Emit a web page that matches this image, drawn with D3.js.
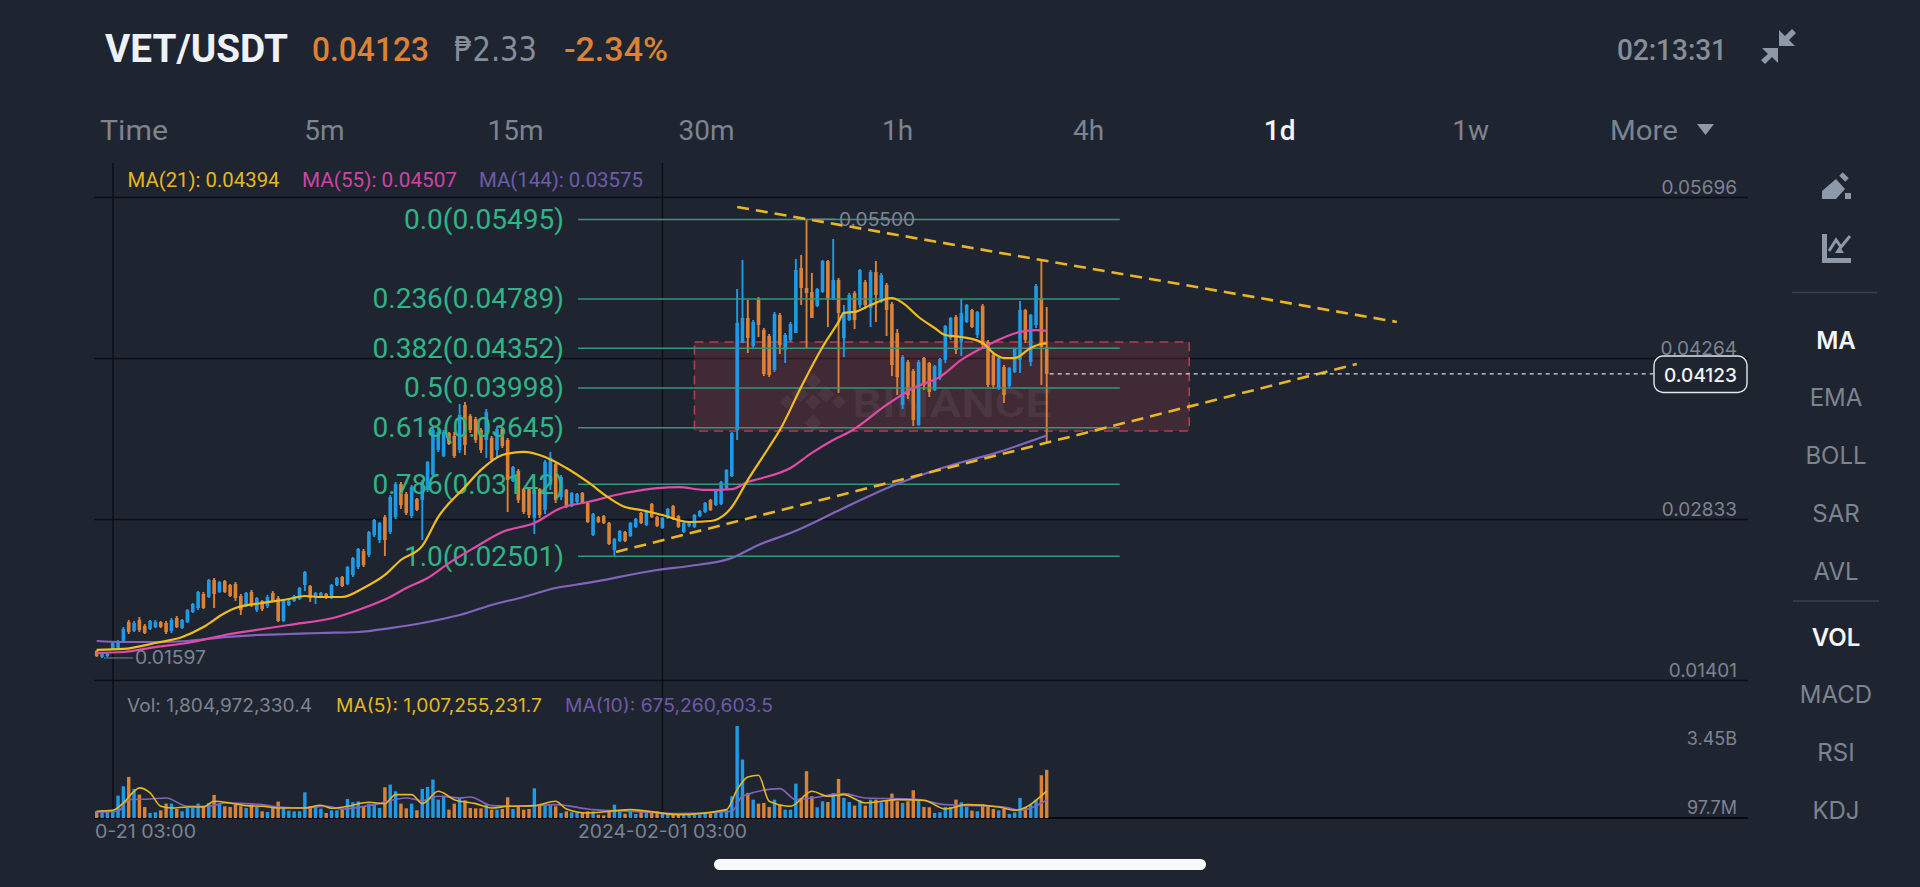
<!DOCTYPE html>
<html><head><meta charset="utf-8">
<script src="https://cdn.jsdelivr.net/npm/d3@7/dist/d3.min.js"></script>
<style>html,body{margin:0;padding:0;background:#1f2530;overflow:hidden}svg{display:block}</style>
</head><body><svg id="c" width="1920" height="887"></svg>
<script>
// Prices below are in units of 0.00001 USDT
const priceUnit = 1e-5;
const highs = [1668,1641,1641,1739,1757,1872,1935,1926,1961,1899,
1935,1935,1926,1926,1952,1970,1943,2032,2086,2192,
2184,2299,2308,2281,2290,2255,2272,2166,2184,2201,
2139,2112,2157,2192,2148,2112,2112,2157,2228,2370,
2246,2184,2184,2175,2255,2317,2326,2415,2495,2575,
2566,2726,2833,2806,2868,3046,3162,3162,3073,3135,
3020,3180,3349,3642,3642,3624,3606,3606,3855,3873,
3767,3740,3642,3811,3571,3651,3651,3553,3304,3277,
3108,3108,3108,3108,3357,3429,3340,3224,3099,3073,
3064,3073,2993,2886,2859,2868,2806,2664,2735,2726,
2806,2842,2895,2913,2975,2859,2850,2931,2957,2868,
2806,2806,2877,2913,2984,3011,3091,3171,3277,3606,
4878,5136,4780,4602,4807,4531,4478,4674,4665,4487,
4585,5145,5181,5500,5020,4887,5136,5136,5323,4976,
4736,4843,4860,5056,4958,5047,5127,5020,4932,4763,
4522,4291,4247,4167,4247,4273,4229,4202,4264,4558,
4629,4647,4789,4745,4700,4683,4745,4425,4309,4273,
4202,4184,4354,4771,4700,4656,4923,5136,4718];
const lows = [1606,1597,1606,1668,1677,1739,1810,1828,1828,1810,
1846,1863,1863,1810,1819,1863,1855,1908,1997,2024,
2032,2130,2041,2175,2175,2139,2104,1979,2050,2050,
2006,2015,2041,2095,1917,1917,2059,2095,2112,2192,
2095,2077,2130,2121,2121,2237,2228,2246,2317,2388,
2406,2495,2673,2619,2504,2699,2833,2922,2868,2842,
2904,2646,3073,3206,3429,3384,3491,3375,3420,3402,
3598,3509,3420,3375,3340,3375,3464,2895,3162,2975,
2877,2842,2699,2842,2877,3091,2975,3002,2931,2939,
2975,2966,2797,2682,2797,2788,2602,2501,2628,2628,
2673,2753,2788,2770,2842,2762,2744,2833,2824,2753,
2708,2762,2753,2850,2886,2904,2948,2957,3099,3206,
3535,4398,4309,4354,4451,4104,4095,4140,4300,4220,
4407,4487,4736,4345,4620,4718,4843,4540,4780,3953,
4273,4594,4522,4709,4700,4540,4585,4754,4460,4104,
3935,3811,3900,3660,3660,3980,3918,3971,4069,4220,
4425,4300,4282,4576,4531,4442,4354,4007,3989,3980,
3864,3998,4131,4131,4398,4193,4531,4024,3509];
const opens = [1659,1606,1614,1677,1686,1748,1917,1837,1935,1881,
1855,1872,1917,1908,1837,1952,1863,1917,2006,2041,
2166,2139,2290,2184,2281,2246,2255,2148,2059,2184,
2023,2104,2059,2175,2130,1926,2068,2104,2121,2246,
2237,2130,2139,2166,2130,2246,2317,2255,2335,2406,
2548,2513,2690,2646,2850,2717,2850,3144,3055,2859,
3011,3002,3091,3224,3447,3393,3597,3571,3447,3846,
3749,3722,3624,3535,3553,3447,3633,3535,3171,3260,
3099,3099,2842,3099,2913,3135,3322,3028,3091,2948,
2984,3064,2975,2690,2850,2859,2797,2557,2637,2717,
2681,2762,2886,2779,2966,2850,2753,2842,2948,2859,
2717,2770,2762,2859,2895,3002,2957,2966,3108,3215,
3624,4398,4620,4372,4789,4514,4460,4158,4647,4336,
4425,4487,5065,4887,4852,4727,4852,5127,4789,4958,
4442,4602,4843,4736,4940,4709,5029,4763,4914,4745,
4487,3847,4229,4149,3669,4264,4220,3980,4087,4247,
4442,4629,4407,4585,4691,4469,4727,4407,4291,3998,
4184,4016,4140,4247,4691,4229,4558,4798,4362];
const closes = [1614,1632,1632,1730,1748,1855,1828,1908,1846,1819,
1926,1917,1872,1828,1935,1872,1935,2023,2077,2184,
2041,2290,2166,2272,2184,2148,2130,2023,2175,2068,
2130,2032,2139,2104,1926,2104,2104,2148,2219,2361,
2130,2175,2175,2130,2246,2308,2237,2406,2486,2566,
2423,2717,2824,2797,2646,3028,3144,2957,2886,3117,
2913,3162,3340,3624,3606,3606,3500,3393,3758,3491,
3624,3535,3447,3784,3358,3633,3482,3180,3295,3002,
2895,2868,3091,2868,3340,3375,3002,3206,2948,3064,
3055,2975,2806,2877,2806,2797,2610,2655,2726,2637,
2797,2833,2797,2904,2850,2770,2842,2922,2833,2762,
2797,2797,2868,2904,2975,2913,3082,3162,3268,3597,
4576,4620,4442,4584,4558,4122,4113,4656,4380,4469,
4567,5047,4887,4843,4620,4878,5127,4798,4958,4665,
4674,4825,4602,5047,4736,5029,4825,5002,4691,4202,
4095,4273,3935,3713,4229,4024,3962,4193,4256,4549,
4620,4336,4665,4736,4540,4674,4380,4024,4024,4264,
3935,4175,4345,4691,4425,4647,4905,4362,4123];
// Volume in millions
const volumes = [251,288,288,288,840,1190,1541,1090,877,414,
188,213,288,539,539,338,251,376,376,539,
414,564,865,539,439,414,501,439,376,501,
414,251,226,376,614,376,276,251,251,965,
439,414,351,188,288,288,338,714,589,627,
439,539,501,376,1153,1253,1002,539,363,539,
288,1090,1165,1441,689,840,313,539,752,664,
376,363,363,501,313,313,338,777,338,414,
313,338,1115,501,476,501,439,188,251,213,
213,213,251,251,125,98,288,501,251,163,
251,150,251,213,251,251,188,163,150,125,
113,113,113,125,226,163,251,288,313,814,
3450,2193,940,689,539,564,414,689,501,313,
313,1291,752,1754,814,401,627,601,940,1466,
752,601,464,664,464,689,689,589,664,915,
627,564,627,1040,689,414,401,188,213,414,
414,689,589,414,276,251,501,414,338,288,
338,150,213,752,414,501,689,1604,1805];

const ma21Index = [0,5,11,16,20,24,26,31,36,39,42,46,50,54,57,61,64,69,72,76,80,84,88,92,96,99,102,106,111,115,118,119,122,126,128,132,136,139,140,142,145,149,151,154,157,159,162,166,168,170,172,175,177,178];
const ma21 = [1668,1677,1730,1783,1872,1997,2041,2086,2121,2148,2139,2139,2219,2335,2468,2593,2851,3117,3269,3402,3429,3384,3286,3162,3020,2939,2913,2868,2806,2815,2886,2939,3180,3473,3624,4007,4362,4585,4665,4674,4736,4798,4754,4629,4531,4469,4451,4398,4309,4264,4264,4354,4389,4394];
const ma55Index = [0,5,11,17,24,30,36,45,50,55,58,62,66,71,76,82,87,92,99,105,109,114,119,122,124,130,134,138,141,148,153,158,162,167,173,176,178];
const ma55 = [1641,1650,1694,1730,1801,1846,1890,1961,2041,2139,2219,2308,2441,2584,2717,2797,2931,2984,3064,3108,3117,3091,3099,3162,3188,3286,3420,3535,3606,3847,3998,4096,4247,4380,4496,4513,4507];
const ma144Index = [0,5,11,17,24,30,36,42,49,55,61,68,74,80,86,92,105,111,119,124,130,140,149,159,169,178];
const ma144 = [1748,1739,1739,1748,1783,1801,1810,1819,1828,1863,1908,1979,2068,2139,2219,2264,2379,2415,2486,2602,2708,2931,3126,3295,3429,3575];

const volMa5Index = [0,3,5,7,8,10,12,14,17,20,22,25,28,31,34,39,42,44,47,51,54,56,59,61,64,67,71,74,77,82,86,88,92,100,109,118,120,122,124,126,130,134,137,140,144,150,155,159,163,169,172,178];
const volMa5 = [251,288,564,1002,1128,940,439,376,414,414,627,564,464,439,376,376,476,363,439,589,539,877,877,539,1002,689,539,376,439,464,627,338,188,313,125,313,1065,1541,1604,627,439,1002,814,877,564,689,664,338,501,414,288,1007];
const volMa10Index = [0,4,6,10,13,17,21,24,31,34,39,43,46,52,58,61,64,68,70,74,80,86,92,93,100,109,119,121,128,131,134,140,144,153,159,170,173,178];
const volMa10 = [213,251,689,714,752,439,439,564,501,414,376,439,338,501,752,652,814,752,789,464,439,501,338,313,251,163,251,814,1103,689,752,915,752,714,501,414,288,675];

const priceTicks = [0.05696,0.04264,0.02833,0.01401];
const volumeLabels = ["3.45B","97.7M"];
const lastPrice = 0.04123;
const fibRatios = ["0.0","0.236","0.382","0.5","0.618","0.786","1.0"];
const fibPrices = [0.05495,0.04789,0.04352,0.03998,0.03645,0.03142,0.02501];
const fibSpan = [90.2,191.7];
const zoneBox = {from:112,to:204.7,top:0.04407,bottom:0.03615};
const upperTrend = [[120,0.05607],[243.6,0.04585]];
const lowerTrend = [[97.3,0.02539],[236.1,0.04211]];
const crossLines = [3.05,106];
const tabs = ["5m","15m","30m","1h","4h","1d","1w"];
const sideTop = ["MA","EMA","BOLL","SAR","AVL"];
const sideBottom = ["VOL","MACD","RSI","KDJ"];

const BLUE="#1f9ae6",ORANGE="#dc8236",BG="#1f2530",GRID="#0c0f15",GREY="#7c8490",
      YEL="#e6b71e",PINK="#e04aa8",PUR="#8263bd",FIB="#35967d",FIBT="#2fb487";
const svg=d3.select("#c");
const x=d3.scaleLinear().domain([0,178]).range([96.7,1046.7]);
const y=d3.scaleLinear().domain([0.01401,0.05696]).range([680,197]);
const yVol=d3.scaleLinear().domain([0,3450]).range([818,726]);

svg.append("rect").attr("width",1920).attr("height",887).attr("fill",BG);

function txt(s,px,py,o={}){
  const t=svg.append("text").text(s).attr("x",px).attr("y",py)
   .attr("font-family",o.font||"Roboto, sans-serif").attr("font-size",o.size||20)
   .attr("font-weight",o.weight||400).attr("fill",o.fill||GREY)
   .attr("text-anchor",o.anchor||"start").attr("dominant-baseline","central");
  if(o.len) t.attr("textLength",o.len).attr("lengthAdjust","spacingAndGlyphs");
  return t;
}

// Header
txt("VET/USDT",105,49,{size:38,weight:700,fill:"#eef1f6",len:183});
txt("0.04123",312,49,{size:34,weight:500,fill:ORANGE,len:117});
txt("₱2.33",454,49,{size:34,fill:"#858d99",font:"DejaVu Sans, sans-serif",len:83});
txt("-2.34%",564,49,{size:34,weight:500,fill:ORANGE,len:104});
txt("02:13:31",1617,49,{size:30,weight:500,fill:"#868e9a",len:110});
const ICON="#8d98a8";
svg.append("path").attr("fill",ICON).attr("d","M1779 30V46H1795L1789 40L1796 33L1792 29L1785 36Z");
svg.append("path").attr("fill",ICON).attr("d","M1778 63V48H1762L1768 54L1761 60L1765 64L1772 57Z");

// Tabs
txt("Time",100,130,{size:28,fill:GREY,len:68});
const tabX=d3.scalePoint().domain(tabs).range([324.5,1470.6]);
tabs.forEach(t=>txt(t,tabX(t),130,{size:28,anchor:"middle",weight:t==="1d"?500:400,fill:t==="1d"?"#f2f4f7":GREY}));
txt("More",1610,130,{size:28,fill:GREY,len:68});
svg.append("path").attr("fill",ICON).attr("d","M1697 124H1714L1705.5 135Z");

// Grid + axis
const axisG=svg.append("g").attr("transform","translate(94,0)")
  .call(d3.axisRight(y).tickValues(priceTicks).tickSize(1654).tickSizeOuter(0).tickFormat(d3.format(".5f")));
axisG.select(".domain").remove();
axisG.selectAll("line").attr("stroke",GRID).attr("stroke-width",1.5);
axisG.selectAll("text").attr("x",1643).attr("dy",0).attr("y",-10).attr("text-anchor","end")
  .attr("font-family","Inter, sans-serif").attr("font-size",19).attr("fill",GREY).attr("dominant-baseline","central");
svg.selectAll(".v").data(crossLines).enter().append("line").attr("class","v")
  .attr("x1",d=>x(d)).attr("x2",d=>x(d)).attr("y1",163).attr("y2",818).attr("stroke",GRID).attr("stroke-width",1.5);
svg.append("line").attr("x1",94).attr("x2",1748).attr("y1",yVol(0)).attr("y2",yVol(0)).attr("stroke","#07090d").attr("stroke-width",2);

// Zone
svg.append("rect").attr("x",x(zoneBox.from)).attr("width",x(zoneBox.to)-x(zoneBox.from))
  .attr("y",y(zoneBox.top)).attr("height",y(zoneBox.bottom)-y(zoneBox.top))
  .attr("fill","#c8404c").attr("fill-opacity",0.2).attr("stroke","#b53c4b").attr("stroke-width",1.6).attr("stroke-dasharray","9 6");

// Watermark
const wm=svg.append("g").attr("fill","#ffffff").attr("fill-opacity",0.06);
[[813,381,12],[800,394,12],[826,394,12],[813,402,11],[813,423,12],[787,402,10],[839,402,10]].forEach(([a,b,s])=>{
  wm.append("rect").attr("x",a-s/2).attr("y",b-s/2).attr("width",s).attr("height",s).attr("transform",`rotate(45 ${a} ${b})`);
});
wm.append("text").text("BINANCE").attr("x",852).attr("y",404).attr("font-family","Roboto, sans-serif").attr("font-weight",700)
  .attr("font-size",38).attr("dominant-baseline","central").attr("textLength",200).attr("lengthAdjust","spacingAndGlyphs");

// Candles
const idx=d3.range(highs.length);
const colorOf=i=>closes[i]>=opens[i]?BLUE:ORANGE;
const P=v=>y(v*priceUnit);
const cG=svg.append("g");
cG.selectAll("line").data(idx).enter().append("line")
  .attr("x1",i=>x(i)).attr("x2",i=>x(i)).attr("y1",i=>P(highs[i])).attr("y2",i=>P(lows[i]))
  .attr("stroke",colorOf).attr("stroke-width",1.9);
cG.selectAll("rect").data(idx).enter().append("rect")
  .attr("x",i=>x(i)-1.8).attr("width",3.6)
  .attr("y",i=>P(Math.max(opens[i],closes[i])))
  .attr("height",i=>Math.max(1,Math.abs(P(opens[i])-P(closes[i]))))
  .attr("fill",colorOf);

// Fib
fibPrices.forEach(p=>{
  svg.append("line").attr("x1",x(fibSpan[0])).attr("x2",x(fibSpan[1])).attr("y1",y(p)).attr("y2",y(p)).attr("stroke",FIB).attr("stroke-width",1.5);
});
fibPrices.forEach((p,k)=>{
  txt(`${fibRatios[k]}(${p.toFixed(5)})`,564,y(p),{size:28,fill:FIBT,anchor:"end"});
});

// MAs
const line=d3.line().curve(d3.curveMonotoneX);
function ma(ix,vals,col,sx,sy,w){
  svg.append("path").attr("fill","none").attr("stroke",col).attr("stroke-width",w||2.2)
   .attr("d",line(ix.map((d,i)=>[sx(d),sy(vals[i])])));
}
ma(ma144Index,ma144,PUR,x,P);
ma(ma55Index,ma55,PINK,x,P);
ma(ma21Index,ma21,"#f0bd1c",x,P);

// Trendlines
[upperTrend,lowerTrend].forEach(t=>{
  svg.append("line").attr("x1",x(t[0][0])).attr("y1",y(t[0][1])).attr("x2",x(t[1][0])).attr("y2",y(t[1][1]))
   .attr("stroke","#e9b526").attr("stroke-width",2.6).attr("stroke-dasharray","12 7");
});

// High/low annotations
svg.append("line").attr("x1",x(133)+4).attr("x2",835).attr("y1",y(0.055)).attr("y2",y(0.055)).attr("stroke",GREY).attr("stroke-width",1);
txt("0.05500",839,y(0.055),{font:"Inter, sans-serif",size:18,fill:"#7d8791",len:76});
svg.append("line").attr("x1",x(1)+2).attr("x2",133).attr("y1",y(0.01597)).attr("y2",y(0.01597)).attr("stroke",GREY).attr("stroke-width",1);
txt("0.01597",135,y(0.01597),{font:"Inter, sans-serif",size:18,fill:GREY,len:71});

// Last price
svg.append("line").attr("x1",x(178)+3).attr("x2",1654).attr("y1",y(lastPrice)).attr("y2",y(lastPrice))
 .attr("stroke","#d8dce2").attr("stroke-width",1.2).attr("stroke-dasharray","4 4");
svg.append("rect").attr("x",1654).attr("y",356).attr("width",93).attr("height",36.5).attr("rx",9)
 .attr("fill",BG).attr("stroke","#e6e8ec").attr("stroke-width",1.4);
txt(lastPrice.toFixed(5),1700.5,375,{font:"Inter, sans-serif",size:19,fill:"#f3f4f6",anchor:"middle",weight:500});

// MA legend
txt("MA(21): 0.04394",127.5,180,{size:20,fill:YEL,len:152});
txt("MA(55): 0.04507",302,180,{size:20,fill:"#cf43a3",len:155});
txt("MA(144): 0.03575",479,180,{size:20,fill:"#6f5bab",len:164});

// Volume
svg.append("g").selectAll("rect").data(idx).enter().append("rect")
  .attr("x",i=>x(i)-1.7).attr("width",3.4)
  .attr("y",i=>yVol(volumes[i])).attr("height",i=>yVol(0)-yVol(volumes[i]))
  .attr("fill",colorOf);
ma(volMa10Index,volMa10,PUR,x,yVol,1.6);
ma(volMa5Index,volMa5,"#e6b71e",x,yVol,1.6);

txt("Vol: 1,804,972,330.4",127,705,{font:"Inter, sans-serif",size:18,fill:GREY,len:185});
txt("MA(5): 1,007,255,231.7",336,705,{font:"Inter, sans-serif",size:18,fill:YEL,len:206});
txt("MA(10): 675,260,603.5",565,705,{font:"Inter, sans-serif",size:18,fill:"#7059ab",len:208});
txt(volumeLabels[0],1737,738,{font:"Inter, sans-serif",size:18,anchor:"end"});
txt(volumeLabels[1],1737,807,{font:"Inter, sans-serif",size:18,anchor:"end"});

txt("0-21 03:00",95,831,{font:"Inter, sans-serif",size:18,len:101});
txt("2024-02-01 03:00",578,831,{font:"Inter, sans-serif",size:18,len:169});

// Right-side tools
svg.append("path").attr("fill",ICON).attr("d","M1822 199V191L1836 179L1845 189L1836 199Z");
svg.append("path").attr("stroke",ICON).attr("stroke-width",5).attr("d","M1841 174L1847 180");
svg.append("rect").attr("x",1845).attr("y",193).attr("width",6).attr("height",6).attr("fill",ICON);
svg.append("path").attr("fill",ICON).attr("d","M1822 234H1827V258H1851V263H1822Z");
svg.append("path").attr("fill","none").attr("stroke",ICON).attr("stroke-width",3).attr("d","M1829 251L1836 240L1841 247L1850 236");
svg.append("path").attr("fill",ICON).attr("d","M1835 253H1844L1839.5 246Z");
svg.append("line").attr("x1",1792).attr("x2",1877).attr("y1",292.5).attr("y2",292.5).attr("stroke","#3a414d").attr("stroke-width",1.5);
svg.append("line").attr("x1",1793).attr("x2",1879).attr("y1",601).attr("y2",601).attr("stroke","#3a414d").attr("stroke-width",1.5);
const sideY=d3.scaleLinear().domain([0,4]).range([340,571]);
sideTop.forEach((t,i)=>txt(t,1836,sideY(i),{font:"Inter, sans-serif",size:24,anchor:"middle",weight:i===0?600:400,fill:i===0?"#f4f5f7":GREY}));
const sideY2=d3.scaleLinear().domain([0,3]).range([637,810]);
sideBottom.forEach((t,i)=>txt(t,1836,sideY2(i),{font:"Inter, sans-serif",size:24,anchor:"middle",weight:i===0?600:400,fill:i===0?"#f4f5f7":GREY}));

// Home indicator
svg.append("rect").attr("x",714).attr("y",859).attr("width",492).attr("height",11).attr("rx",5.5).attr("fill","#f8f9fb");
</script></body></html>
